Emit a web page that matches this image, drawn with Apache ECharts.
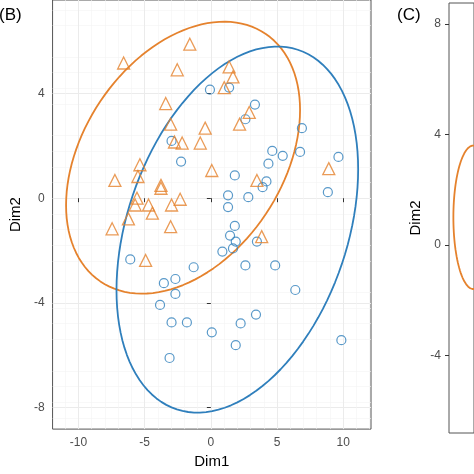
<!DOCTYPE html>
<html>
<head>
<meta charset="utf-8">
<script src="https://cdn.jsdelivr.net/npm/echarts@6/dist/echarts.min.js"></script>
<style>html,body{margin:0;padding:0;background:#fff}#c{width:474px;height:474px}</style>
</head>
<body>
<div id="c"></div>
<script>
// pixel-read points converted to data units
const bluePx = [[203,89],[223,87],[250,104],[240,119],[299,128],[163,141],[173,162],[268,151],[279,156],[297,152],[337,157],[264,164],[229,176],[262,182],[258,188],[326,193],[222,196],[243,198],[222,208],[229,227],[224,237],[230,243],[227,250],[216,253],[252,243],[120,261],[186,269],[240,267],[271,267],[155,285],[167,281],[167,296],[292,292],[151,307],[163,325],[179,325],[251,317],[235,326],[205,335],[230,348],[340,343],[161,361]];
const orangePx = [[182,43],[113,62],[169,69],[223,66],[227,76],[218,87],[157,103],[244,112],[234,124],[162,124],[198,128],[166,142],[174,143],[193,143],[130,165],[205,171],[128,177],[104,181],[252,181],[327,169],[152,186],[152,189],[127,199],[172,200],[125,206],[139,206],[163,206],[118,220],[143,214],[162,228],[101,230],[136,262],[257,238]];
const toData = p => [+((p[0] - 204) / 13.8).toFixed(2), +((199 - p[1]) / 26.5).toFixed(2)];
const blueData = bluePx.map(toData);
const orangeData = orangePx.map(toData);

// ellipse params: cx, cy, rx, ry, sin(phase)
const blueEll = [2.0, -1.2, 9.13, 7.0, 0.33];
const orangeEll = [-2.1, 1.55, 8.84, 5.2, 0.35];
const cEll = [9.75, 1.0, 8, 2.6, 0];
const ellipse = e => {
    const ph = Math.asin(e[4]), pts = [];
    for (let i = 0; i <= 120; i++) {
        const t = i / 120 * 2 * Math.PI;
        pts.push([e[0] + e[2] * Math.cos(t), e[1] + e[3] * Math.sin(t + ph)]);
    }
    return pts;
};

const BLUE = '#2f7fbc', ORANGE = '#e5822d';
const gridLine = { show: true, lineStyle: { color: '#ebebeb', width: 1 } };
const minorLine = { show: true, lineStyle: { color: '#f4f4f4', width: 0.6 } };
const lbl = { color: '#4d4d4d', fontSize: 12, fontFamily: 'Arial' };
const nameStyle = { fontSize: 15, fontFamily: 'Arial', color: '#000' };

const chart = echarts.init(document.getElementById('c'));
chart.setOption({
    animation: false,
    grid: [
        { left: 39, top: -2, width: 332, height: 435, show: true, borderColor: '#555', borderWidth: 1 },
        { left: 449, top: 3, width: 80, height: 430, show: true, borderColor: '#555', borderWidth: 1 }
    ],
    title: [
        { text: '(B)', left: -6, top: 2, textStyle: { fontSize: 17, fontWeight: 'normal', fontFamily: 'Arial', color: '#000' } },
        { text: '(C)', left: 392, top: 2, textStyle: { fontSize: 17, fontWeight: 'normal', fontFamily: 'Arial', color: '#000' } }
    ],
    xAxis: [
        { gridIndex: 0, type: 'value', min: -11.96, max: 12.1, name: 'Dim1', nameLocation: 'middle', nameGap: 24,
          nameTextStyle: nameStyle,
          axisLabel: Object.assign({ customValues: [-10, -5, 0, 5, 10] }, lbl),
          axisTick: { customValues: [-10, -5, 0, 5, 10], lineStyle: { color: '#333' }, length: 4 },
          axisLine: { show: false }, splitLine: gridLine, minorSplitLine: minorLine },
        { gridIndex: 1, type: 'value', min: 0, max: 10, axisLabel: { show: false }, axisTick: { show: false }, axisLine: { show: false }, splitLine: { show: false } }
    ],
    yAxis: [
        { gridIndex: 0, type: 'value', min: -8.83, max: 7.58, name: 'Dim2', nameLocation: 'middle', nameGap: 22,
          nameTextStyle: nameStyle,
          axisLabel: Object.assign({ customValues: [-8, -4, 0, 4] }, lbl),
          axisTick: { customValues: [-8, -4, 0, 4], lineStyle: { color: '#333' }, length: 4 },
          axisLine: { show: false }, splitLine: gridLine, minorSplitLine: minorLine },
        { gridIndex: 1, type: 'value', min: -6.81, max: 8.76, name: 'Dim2', nameLocation: 'middle', nameGap: 26,
          nameTextStyle: nameStyle,
          axisLabel: Object.assign({ customValues: [-4, 0, 4, 8] }, lbl),
          axisTick: { customValues: [-4, 0, 4, 8], lineStyle: { color: '#333' }, length: 4 },
          axisLine: { show: false }, splitLine: { show: false } }
    ],
    series: [
        { type: 'line', data: ellipse(orangeEll), showSymbol: false, lineStyle: { color: ORANGE, width: 1.8 }, z: 2 },
        { type: 'line', data: ellipse(blueEll), showSymbol: false, lineStyle: { color: BLUE, width: 1.8 }, z: 2 },
        { type: 'scatter', data: blueData, symbol: 'circle', symbolSize: 9,
          itemStyle: { color: 'rgba(0,0,0,0)', borderColor: BLUE, borderWidth: 1.2 }, z: 3 },
        { type: 'scatter', data: orangeData, symbol: 'triangle', symbolSize: 12,
          itemStyle: { color: 'rgba(0,0,0,0)', borderColor: ORANGE, borderWidth: 1.3 }, z: 3 },
        { type: 'line', xAxisIndex: 1, yAxisIndex: 1, data: ellipse(cEll), showSymbol: false,
          lineStyle: { color: ORANGE, width: 1.8 } }
    ]
});
</script>
</body>
</html>
